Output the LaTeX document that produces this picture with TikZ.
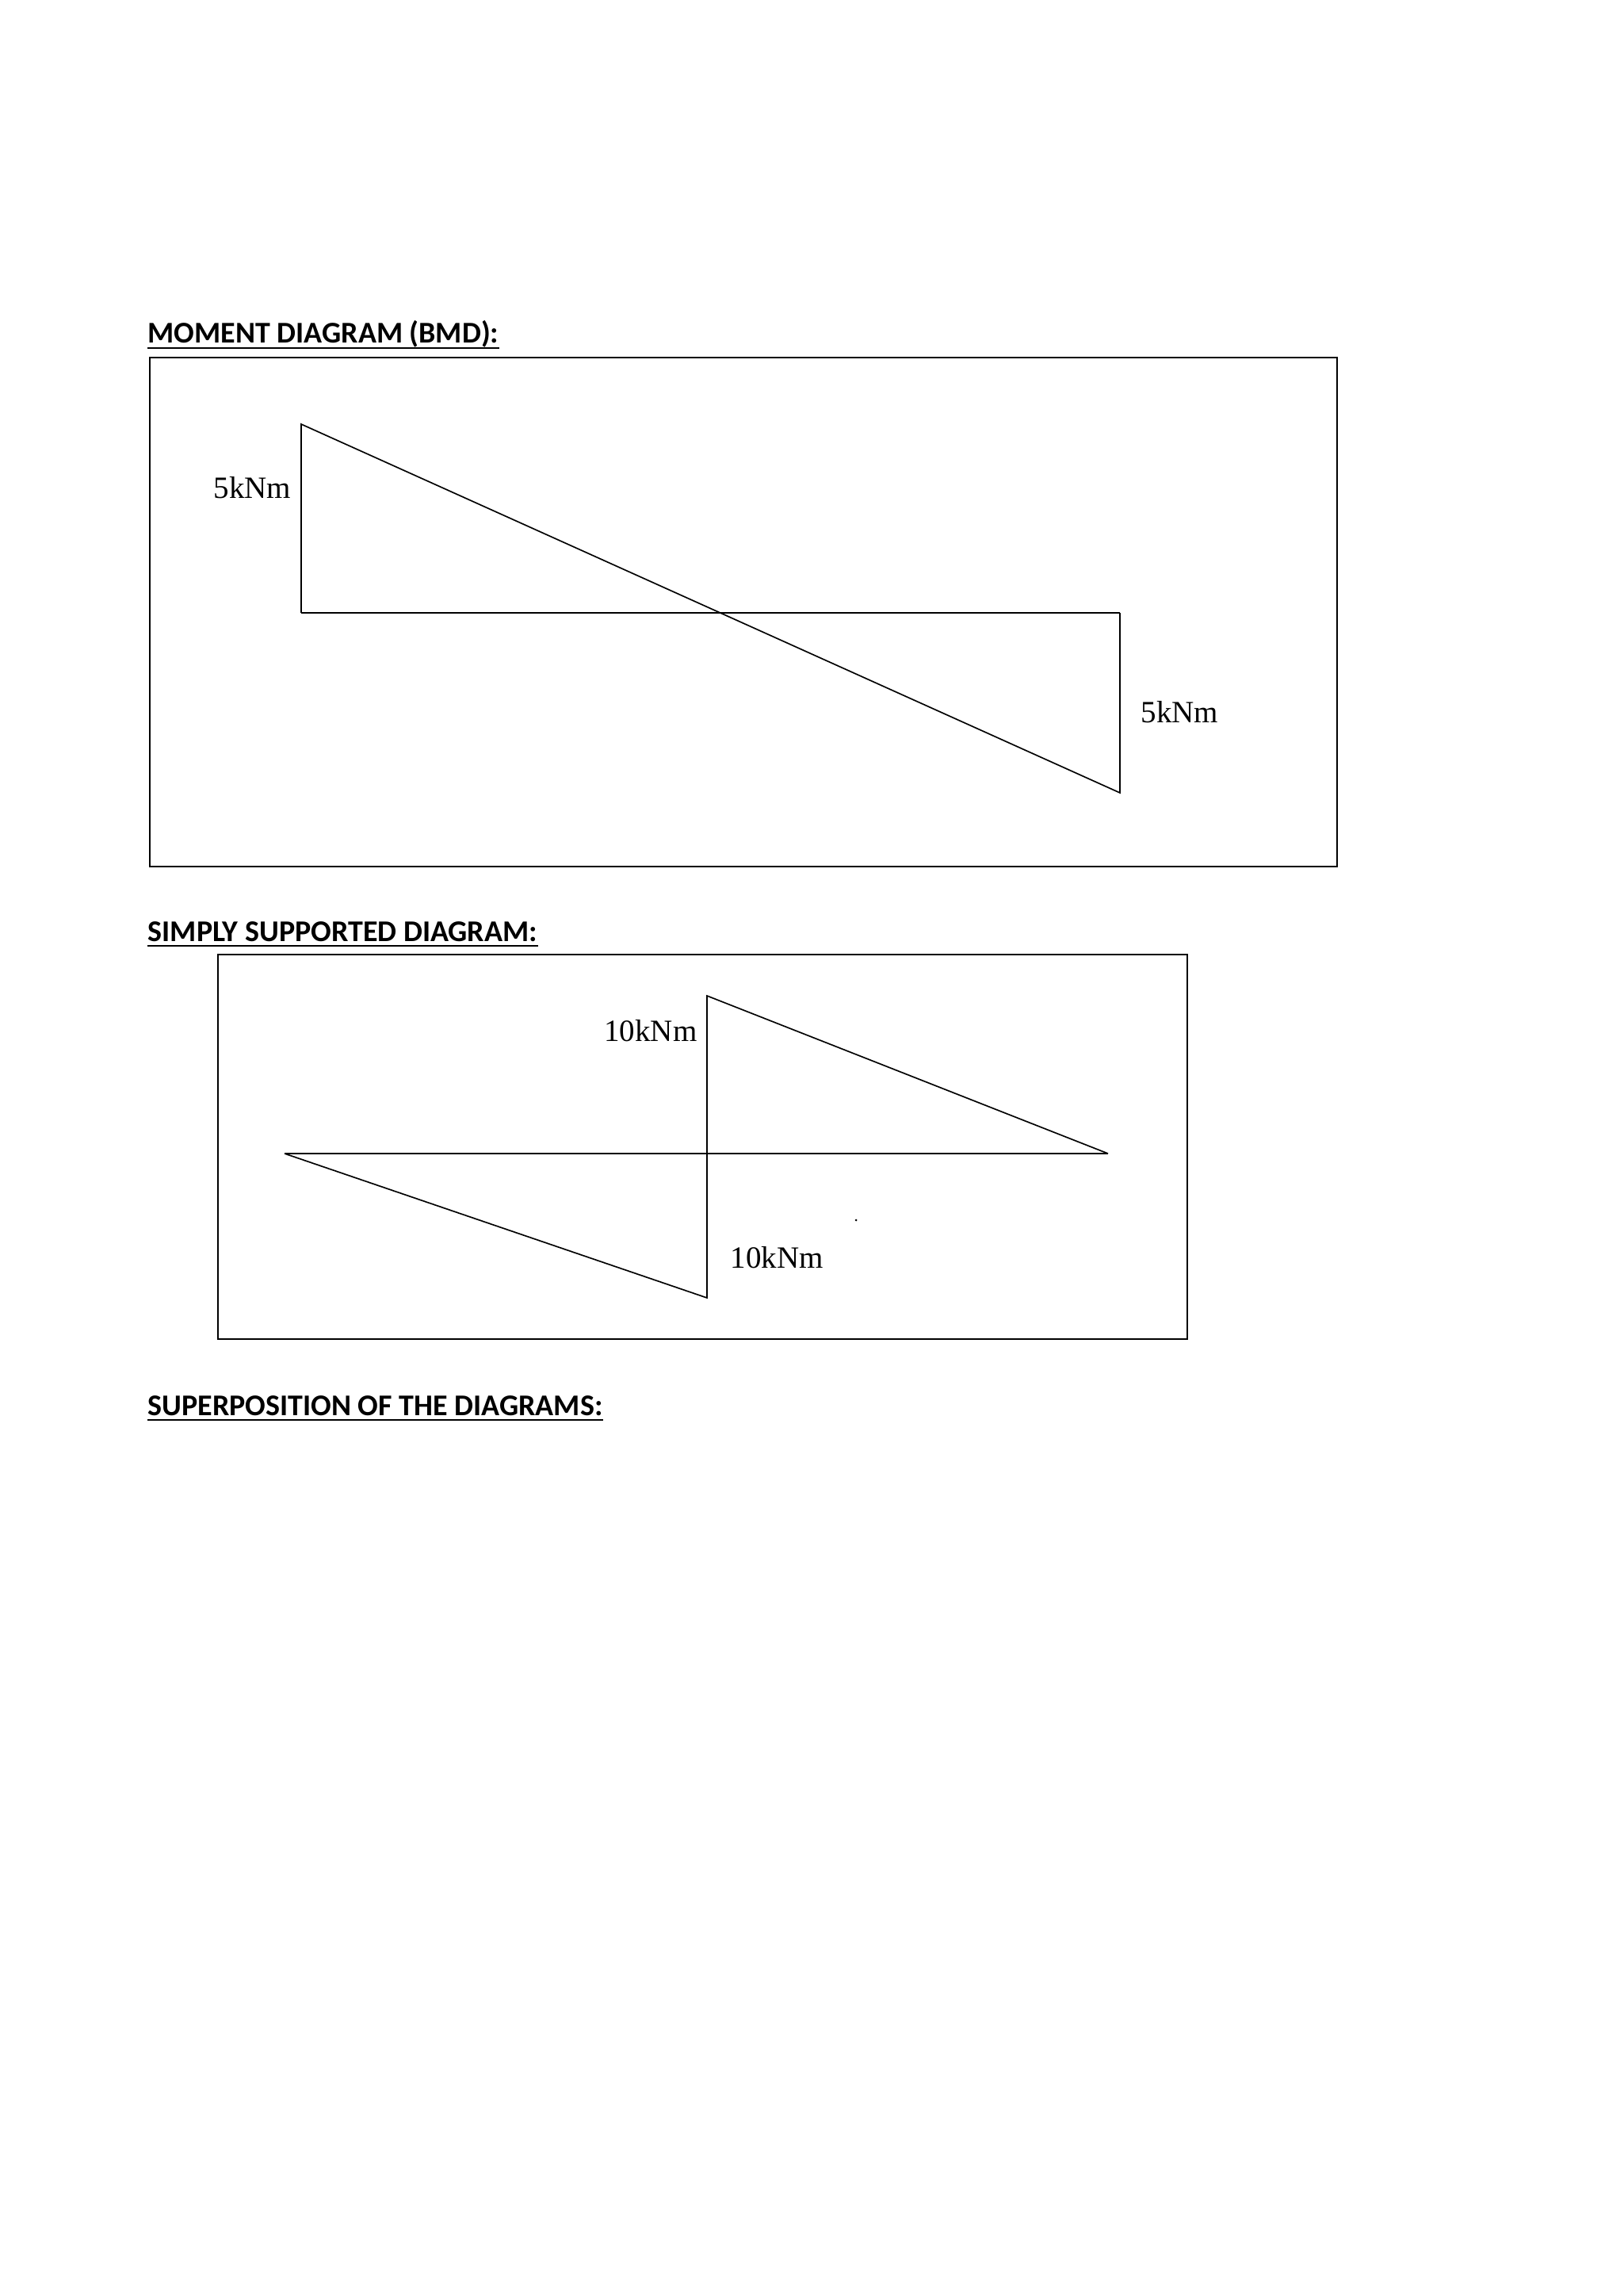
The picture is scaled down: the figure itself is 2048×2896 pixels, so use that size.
\documentclass[tikz,border=0pt]{standalone}
\usepackage{fontspec}
\setmainfont{Carlito}
\newfontfamily\lblfont{Liberation Serif}
\begin{document}
\begin{tikzpicture}[x=0.3pt,y=-0.3pt,
  heading/.style={font=\fontsize{11.4}{13}\selectfont\bfseries, anchor=base west, inner sep=0pt},
  uline/.style={line width=0.6pt},
  frame/.style={line width=0.65pt},
  curve/.style={line width=0.5pt},
  axisline/.style={line width=0.6pt},
  lbl/.style={font=\lblfont\fontsize{11.7}{14}\selectfont, inner sep=0pt}]
\useasboundingbox (0,0) rectangle (2048,2896);
\fill[white] (0,0) rectangle (2048,2896);

% ---------- Moment diagram ----------
\node[heading] (t1) at (186,433) {MOMENT DIAGRAM (BMD):};
\draw[uline] ([yshift=-1.8pt]t1.base west) -- ([yshift=-1.8pt]t1.base east);
\draw[frame] (189,451) rectangle (1687,1093);
\coordinate (a1) at (380,535);
\coordinate (a2) at (380,773);
\coordinate (a3) at (1413,773);
\coordinate (a4) at (1413,1000);
\draw[curve] (a2) -- (a1) -- (a4) -- (a3);
\draw[axisline] (a2) -- (a3);
\node[lbl, anchor=base east] (l1) at (368,629) {5kNm};
\node[lbl, anchor=base west] (l2) at (1439,911) {5kNm};

% ---------- Simply supported diagram ----------
\node[heading] (t2) at (186,1187) {SIMPLY SUPPORTED DIAGRAM:};
\draw[uline] ([yshift=-1.8pt]t2.base west) -- ([yshift=-1.8pt]t2.base east);
\draw[frame] (275,1204) rectangle (1498,1689);
\coordinate (b1) at (359,1455);
\coordinate (b2) at (892,1455);
\coordinate (b3) at (1398,1455);
\coordinate (b4) at (892,1256);
\coordinate (b5) at (892,1637);
\draw[axisline, line width=0.7pt] (b1) -- (b3);
\draw[curve] (b1) -- (b5) -- (b4) -- (b3);
\node[lbl, anchor=base east] (l3) at (880,1313) {10kNm};
\node[lbl, anchor=base west] (l4) at (921,1599) {10kNm};
\fill (1080,1539) circle (1.5);

% ---------- Superposition ----------
\node[heading] (t3) at (186,1785) {SUPERPOSITION OF THE DIAGRAMS:};
\draw[uline] ([yshift=-1.8pt]t3.base west) -- ([yshift=-1.8pt]t3.base east);
\end{tikzpicture}
\end{document}
